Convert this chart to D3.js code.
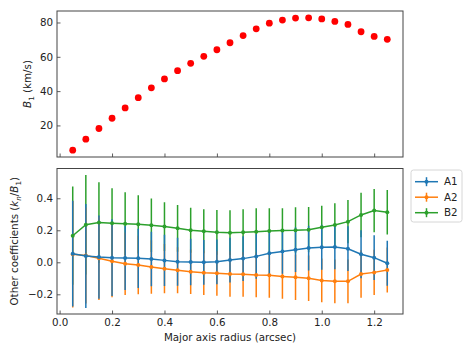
<!DOCTYPE html>
<html><head><meta charset="utf-8">
<script src="https://cdn.jsdelivr.net/npm/d3@7"></script>
<style>
html,body{margin:0;padding:0;background:#fff;}
svg{display:block;font-family:"DejaVu Sans",sans-serif;}
</style></head>
<body><svg id="c" width="474" height="355"></svg>
<script>
const radius = [0.05,0.10,0.15,0.20,0.25,0.30,0.35,0.40,0.45,0.50,0.55,0.60,0.65,0.70,0.75,0.80,0.85,0.90,0.95,1.00,1.05,1.10,1.15,1.20,1.25];
const B1 = [5.6,12.0,18.2,24.2,30.2,36.2,41.9,47.1,51.9,56.2,60.3,64.1,68.2,72.4,76.3,79.6,81.4,82.6,82.7,82.1,80.6,78.9,74.6,71.9,70.2];
const A1 = [0.054,0.039,0.033,0.029,0.027,0.025,0.021,0.012,0.004,0.002,0.000,0.003,0.014,0.023,0.037,0.056,0.068,0.079,0.089,0.094,0.096,0.085,0.050,0.029,-0.006];
const A1err = [0.33,0.325,0.26,0.24,0.20,0.185,0.17,0.16,0.15,0.145,0.14,0.14,0.14,0.14,0.14,0.14,0.14,0.14,0.14,0.14,0.14,0.14,0.15,0.14,0.14];
const A2 = [0.050,0.042,0.025,0.006,-0.009,-0.017,-0.029,-0.040,-0.050,-0.059,-0.065,-0.069,-0.073,-0.075,-0.079,-0.081,-0.088,-0.094,-0.100,-0.113,-0.119,-0.119,-0.073,-0.063,-0.048];
const A2err = [0.333,0.30,0.26,0.225,0.195,0.183,0.167,0.154,0.144,0.139,0.139,0.14,0.142,0.14,0.14,0.14,0.14,0.142,0.142,0.137,0.137,0.137,0.148,0.141,0.14];
const B2 = [0.166,0.235,0.248,0.244,0.241,0.237,0.231,0.223,0.212,0.200,0.194,0.187,0.185,0.187,0.191,0.196,0.198,0.200,0.204,0.219,0.233,0.254,0.296,0.323,0.313];
const B2err = [0.307,0.311,0.252,0.218,0.196,0.182,0.167,0.152,0.146,0.141,0.137,0.14,0.14,0.144,0.146,0.141,0.139,0.144,0.142,0.135,0.136,0.135,0.139,0.135,0.139];
const seriesNames = ["A1","A2","B2"];
const seriesColors = ["#1f77b4","#ff7f0e","#2ca02c"];
const xTicks = [0.0,0.2,0.4,0.6,0.8,1.0,1.2];
const topYTicks = [20,40,60,80];
const botYTicks = [-0.2,0.0,0.2,0.4];

const svg = d3.select("#c");
const FS = 10.3;
const L = 57, R = 403;
const topT = 11, topB = 157, botT = 168.5, botB = 314;
const x = d3.scaleLinear().domain([-0.01,1.31]).range([L,R]);
const yTop = d3.scaleLinear().domain([1.6,86.7]).range([topB,topT]);
const yBot = d3.scaleLinear().domain([-0.323,0.586]).range([botB,botT]);
const fmt = d => d3.format(".1f")(d).replace("-","\u2212");
const txtCol = "#222";

function styleAxis(g){
  g.select(".domain").remove();
  g.selectAll(".tick line").attr("stroke","#333").attr("stroke-width",0.8);
  g.selectAll(".tick text").attr("fill",txtCol).attr("font-size",FS).attr("font-family","DejaVu Sans");
}

// top panel
svg.append("g").attr("transform",`translate(0,${topB})`)
  .call(d3.axisBottom(x).tickValues(xTicks).tickSize(-3.5).tickFormat("")).call(styleAxis);
svg.append("g").attr("transform",`translate(${L},0)`)
  .call(d3.axisLeft(yTop).tickValues(topYTicks).tickSize(-3.5).tickPadding(4).tickFormat(d3.format("d"))).call(styleAxis);
svg.append("g").selectAll("circle").data(radius).join("circle")
  .attr("cx",(d)=>x(d)).attr("cy",(d,i)=>yTop(B1[i])).attr("r",3.4).attr("fill","#ff0000");
svg.append("rect").attr("x",L).attr("y",topT).attr("width",R-L).attr("height",topB-topT)
  .attr("fill","none").attr("stroke","#444").attr("stroke-width",1);

// bottom panel
svg.append("g").attr("transform",`translate(0,${botB})`)
  .call(d3.axisBottom(x).tickValues(xTicks).tickSize(-3.5).tickPadding(4.2).tickFormat(fmt)).call(styleAxis);
svg.append("g").attr("transform",`translate(${L},0)`)
  .call(d3.axisLeft(yBot).tickValues(botYTicks).tickSize(-3.5).tickPadding(4).tickFormat(fmt)).call(styleAxis);

const series = [
  {name:"A1", vals:A1, err:A1err, color:seriesColors[0]},
  {name:"A2", vals:A2, err:A2err, color:seriesColors[1]},
  {name:"B2", vals:B2, err:B2err, color:seriesColors[2]}
];
svg.append("defs").append("clipPath").attr("id","clipb").append("rect")
  .attr("x",L).attr("y",botT).attr("width",R-L).attr("height",botB-botT);
const plot = svg.append("g").attr("clip-path","url(#clipb)");
// error bars: green, orange, blue (blue on top)
[series[2],series[1],series[0]].forEach(s=>{
  plot.append("g").selectAll("line").data(radius).join("line")
    .attr("x1",d=>x(d)).attr("x2",d=>x(d))
    .attr("y1",(d,i)=>yBot(s.vals[i]-s.err[i])).attr("y2",(d,i)=>yBot(s.vals[i]+s.err[i]))
    .attr("stroke",s.color).attr("stroke-width",1.5);
});
const line = d3.line().x((d,i)=>x(radius[i])).y(d=>yBot(d));
[series[1],series[0],series[2]].forEach(s=>{
  plot.append("path").datum(s.vals).attr("d",line).attr("fill","none")
    .attr("stroke",s.color).attr("stroke-width",1.5);
  plot.append("g").selectAll("circle").data(s.vals).join("circle")
    .attr("cx",(d,i)=>x(radius[i])).attr("cy",d=>yBot(d)).attr("r",2).attr("fill",s.color);
});
svg.append("rect").attr("x",L).attr("y",botT).attr("width",R-L).attr("height",botB-botT)
  .attr("fill","none").attr("stroke","#444").attr("stroke-width",1);

// legend
const lg = svg.append("g");
lg.append("rect").attr("x",411).attr("y",170).attr("width",51).attr("height",52).attr("rx",2.5)
  .attr("fill","#fff").attr("stroke","#ccc").attr("stroke-width",0.8);
series.forEach((s,i)=>{
  const yy = 181.7 + i*15.5;
  lg.append("line").attr("x1",415).attr("x2",438).attr("y1",yy).attr("y2",yy).attr("stroke",s.color).attr("stroke-width",1.5);
  lg.append("line").attr("x1",426.5).attr("x2",426.5).attr("y1",yy-4.5).attr("y2",yy+4.5).attr("stroke",s.color).attr("stroke-width",1.5);
  lg.append("circle").attr("cx",426.5).attr("cy",yy).attr("r",2).attr("fill",s.color);
  lg.append("text").attr("x",444).attr("y",yy).attr("dy","0.35em").attr("font-size",FS).attr("fill",txtCol).text(s.name);
});

// axis labels
const yl1 = svg.append("text").attr("transform",`translate(31,${(topT+topB)/2}) rotate(-90)`)
  .attr("text-anchor","middle").attr("font-size",FS).attr("fill",txtCol);
yl1.append("tspan").attr("font-style","italic").text("B");
yl1.append("tspan").attr("font-size",7.2).attr("dy",2.5).text("1");
yl1.append("tspan").attr("dy",-2.5).text(" (km/s)");

const yl2 = svg.append("text").attr("transform",`translate(18,${(botT+botB)/2}) rotate(-90)`)
  .attr("text-anchor","middle").attr("font-size",FS).attr("fill",txtCol);
yl2.append("tspan").text("Other coefficients (");
yl2.append("tspan").attr("font-style","italic").text("k");
yl2.append("tspan").attr("font-size",7.2).attr("font-style","italic").attr("dy",2.5).text("n");
yl2.append("tspan").attr("dy",-2.5).text("/");
yl2.append("tspan").attr("font-style","italic").text("B");
yl2.append("tspan").attr("font-size",7.2).attr("dy",2.5).text("1");
yl2.append("tspan").attr("dy",-2.5).text(")");

svg.append("text").attr("x",(L+R)/2).attr("y",341).attr("text-anchor","middle")
  .attr("font-size",FS).attr("fill",txtCol).text("Major axis radius (arcsec)");
</script></body></html>
